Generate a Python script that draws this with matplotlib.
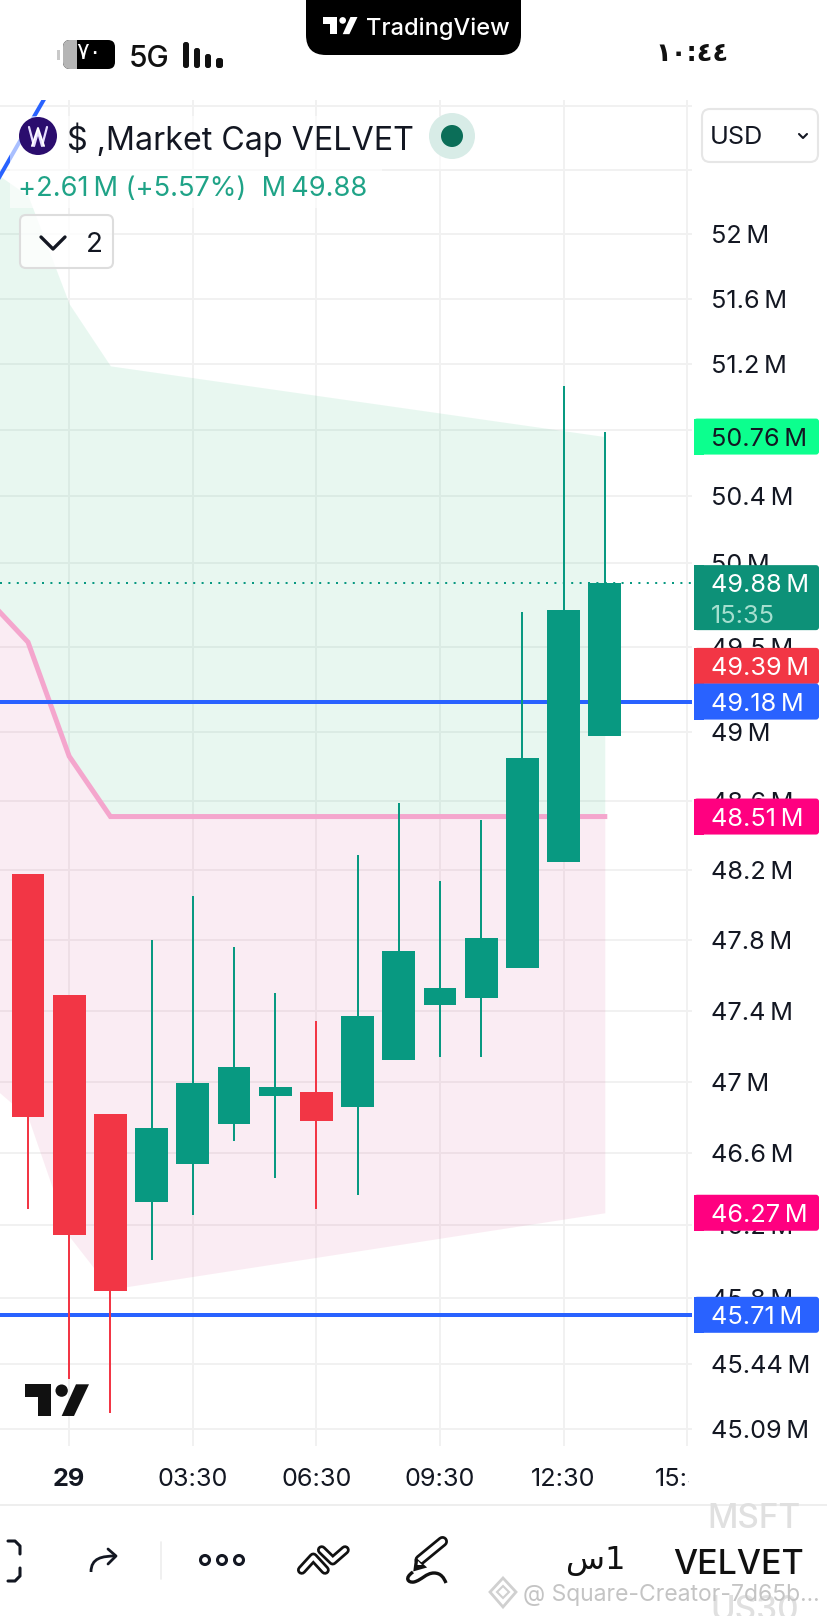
import matplotlib
matplotlib.use("Agg")
import matplotlib.pyplot as plt
from matplotlib.patches import FancyBboxPatch, Rectangle, Circle, Polygon, PathPatch
from matplotlib.path import Path
from matplotlib.transforms import Bbox

# ---------- data (prices in millions) ----------
opens  = [48.18, 47.49, 46.82, 46.33, 46.54, 46.76, 46.92, 46.94, 46.86, 47.12, 47.43, 47.47, 47.64, 48.25, 48.98]
closes = [46.80, 46.15, 45.84, 46.74, 46.99, 47.08, 46.97, 46.78, 47.37, 47.74, 47.53, 47.81, 48.85, 49.72, 49.88]
highs  = [48.18, 47.49, 46.82, 47.80, 48.05, 47.76, 47.50, 47.34, 48.29, 48.59, 48.14, 48.49, 49.71, 51.07, 50.79]
lows   = [46.29, 45.36, 45.18, 46.01, 46.26, 46.67, 46.46, 46.29, 46.37, 47.12, 47.14, 47.14, 47.64, 48.25, 48.98]

band_idx   = [-1, 0, 1, 2, 14]
band_upper = [52.42, 52.24, 51.57, 51.19, 50.76]
band_mid   = [49.79, 49.53, 48.86, 48.51, 48.51]
band_lower = [47.00, 46.80, 46.14, 45.85, 46.27]

trend_idx = [-1, 0, 1]
trend_val = [52.22, 52.67, 53.12]

last_price = 49.88
h_levels = [49.18, 45.71]

TS = '\u2009'
grid_prices = [52.8, 52.4, 52, 51.6, 51.2, 50.8, 50.4, 50, 49.5, 49, 48.6, 48.2, 47.8, 47.4, 47, 46.6, 46.2, 45.8, 45.44, 45.09]
grid_labels = ['', '', '52', '51.6', '51.2', '50.8', '50.4', '50', '49.5', '49', '48.6', '48.2',
               '47.8', '47.4', '47', '46.6', '46.2', '45.8', '45.44', '45.09']
time_idx = [1, 4, 7, 10, 13, 16]
time_labels = ['29', '03:30', '06:30', '09:30', '12:30', '15:30']

tag_values = [50.76, 49.88, 49.39, 49.18, 48.51, 46.27, 45.71]
tag_colors = ['#0cff8e', '#0d9178', '#f23645', '#2962ff', '#ff0080', '#ff0080', '#2962ff']
tag_text_colors = ['#131722', '#ffffff', '#ffffff', '#ffffff', '#ffffff', '#ffffff', '#ffffff']

GREEN = '#089981'
RED = '#f23645'
INK = '#131722'
UI = 'Inter'
plt.rcParams['font.family'] = [UI, 'DejaVu Sans']
LAB = 18.2

W, H = 828, 1616
fig = plt.figure(figsize=(W / 100, H / 100), dpi=100, facecolor='white')
px = 0.72  # points per pixel

# ---------- main chart ----------
ax = fig.add_axes([0, (H - 1446) / H, 692 / W, (1446 - 100) / H])
ax.set_yscale('log')
ax.set_xlim(-0.68, 16.117)
ax.set_ylim(45.00, 52.84)
for s in ax.spines.values():
    s.set_visible(False)
ax.minorticks_off()
ax.yaxis.tick_right()
ax.set_yticks(grid_prices, [f'{g}{TS}M' if g else '' for g in grid_labels])
ax.yaxis.set_minor_locator(matplotlib.ticker.NullLocator())
ax.set_xticks(time_idx, time_labels)
ax.tick_params(axis='y', length=0, pad=19 * px, labelsize=LAB, labelcolor=INK)
ax.tick_params(axis='x', length=0, pad=22 * px, labelsize=LAB, labelcolor=INK)
ax.grid(True, color='#f1f1f1', lw=2 * px)
ax.set_axisbelow(True)
for lab in ax.get_yticklabels():
    lab.set_horizontalalignment('left')
xlabs = ax.get_xticklabels()
xlabs[0].set_fontweight('bold')
xlabs[-1].set_clip_on(True)
xlabs[-1].set_clip_box(Bbox([[0, 0], [689, H]]))

ax.fill_between(band_idx, band_mid, band_upper, color='#20b874', alpha=0.1, lw=0, zorder=1)
ax.fill_between(band_idx, band_lower, band_mid, color='#d0307a', alpha=0.09, lw=0, zorder=1)
ax.plot(band_idx, band_mid, color='#f4a6cd', lw=5 * px, zorder=2, solid_joinstyle='miter')
ax.plot(trend_idx, trend_val, color='#2962ff', lw=4 * px, zorder=2)
for lv in h_levels:
    ax.axhline(lv, color='#2962ff', lw=4 * px, zorder=2)
ax.axhline(last_price, color=GREEN, lw=2 * px, ls=(0, (1, 3.2)), zorder=2)

for i, (o, c, hi, lo) in enumerate(zip(opens, closes, highs, lows)):
    col = GREEN if c >= o else RED
    ax.vlines(i, lo, hi, color=col, lw=2 * px, zorder=3)
    ax.bar(i, abs(c - o), bottom=min(o, c), width=0.8, color=col, lw=0, zorder=4)

# ---------- overlay in pixels ----------
ov = fig.add_axes([0, 0, 1, 1], zorder=10)
ov.set_xlim(0, W)
ov.set_ylim(H, 0)
ov.axis('off')
ov.patch.set_alpha(0)


def ypx(price):
    yd = ax.transData.transform((0, price))[1]
    return H - yd


def rbox(x0, y0, x1, y1, r, fc, ec='none', lw=0, alpha=None, z=5):
    p = FancyBboxPatch((x0 + r, y0 + r), x1 - x0 - 2 * r, y1 - y0 - 2 * r,
                       boxstyle=f'round,pad={r},rounding_size={r}', fc=fc, ec=ec, lw=lw, alpha=alpha, zorder=z,
                       mutation_aspect=1)
    ov.add_patch(p)


def tv_logo(x0, y0, w, color, z=7):
    s = w / 191.0
    ov.add_patch(Polygon([(x0, y0), (x0 + 77 * s, y0), (x0 + 77 * s, y0 + 95 * s), (x0 + 38 * s, y0 + 95 * s),
                          (x0 + 38 * s, y0 + 37 * s), (x0, y0 + 37 * s)], closed=True, fc=color, ec='none', zorder=z))
    ov.add_patch(Circle((x0 + 109 * s, y0 + 19 * s), 18.5 * s, fc=color, ec='none', zorder=z))
    ov.add_patch(Polygon([(x0 + 152 * s, y0), (x0 + 191 * s, y0), (x0 + 146 * s, y0 + 95 * s), (x0 + 109 * s, y0 + 95 * s)],
                         closed=True, fc=color, ec='none', zorder=z))


def line(xs, ys, c=INK, lw=2.0, z=7, **kw):
    ov.plot(xs, ys, color=c, lw=lw, zorder=z, solid_capstyle='round', solid_joinstyle='round', **kw)


# price tags
for val, col, tc in zip(tag_values, tag_colors, tag_text_colors):
    yc = ypx(val)
    y0 = yc - 18
    y1 = yc + 18
    if val == last_price:
        y1 = y0 + 65
    rbox(694, y0, 819, y1, 3, col)
    ov.add_patch(Rectangle((694, y0), 10, y1 - y0, fc=col, ec='none', zorder=5))
    ov.text(711, yc, f'{val:.2f}{TS}M', color=tc, fontsize=LAB, va='center_baseline', ha='left', zorder=6)
    if val == last_price:
        ov.text(711, yc + 31, '15:35', color='#a6dfcf', fontsize=LAB, va='center_baseline', ha='left', zorder=6)

# legend veil
ov.add_patch(Rectangle((10, 116), 470, 53, fc='white', ec='none', alpha=0.6, zorder=4))
ov.add_patch(Rectangle((10, 169), 372, 39, fc='white', ec='none', alpha=0.6, zorder=4))

# title row
ov.add_patch(Circle((38, 136), 19, fc='#2b0d6e', ec='none', zorder=5))
line([29, 34, 38, 42, 47], [127, 146, 132, 146, 127], c='#e6dcff', lw=1.6, z=6)
line([32, 38, 44], [146, 128, 146], c='#ffffff', lw=1.4, z=6)
ov.text(67, 136, '$ ,Market Cap VELVET', fontsize=23.2, color=INK, va='center_baseline', ha='left', zorder=6)
ov.add_patch(Circle((452, 136), 23, fc='#d8ece7', ec='none', zorder=5))
ov.add_patch(Circle((452, 136), 11, fc='#0b6e58', ec='none', zorder=6))

ov.text(18, 186, f'+2.61{TS}M (+5.57%)  M{TS}49.88', fontsize=19.6, color='#1fa387', va='center_baseline', ha='left', zorder=6)

# collapse button
rbox(20, 215, 113, 268, 6, '#ffffffcc', ec='#dddddd', lw=1.5)
line([41, 53, 65], [237, 249, 237], lw=2.4)
ov.text(94, 242, '2', fontsize=20, color=INK, ha='center', va='center_baseline', zorder=6)

# USD box
rbox(702, 109, 818, 162, 8, 'white', ec='#e6e6e6', lw=1.5)
ov.text(710, 135, 'USD', fontsize=LAB, color=INK, va='center_baseline', ha='left', zorder=6)
line([799, 803, 807], [134, 138, 134], lw=1.5)

# top notch
ov.add_patch(FancyBboxPatch((326, -40), 175, 75, boxstyle='round,pad=20,rounding_size=20', fc='black', ec='none', zorder=6))
tv_logo(323, 17, 34.5, 'white')
ov.text(366, 26, 'TradingView', fontsize=17, color='white', va='center_baseline', ha='left', fontweight='medium', zorder=7)

# status bar
rbox(63, 40, 115, 69, 7, 'black')
rbox(63, 40, 90, 69, 7, '#b5b5b5', z=5)
ov.add_patch(Rectangle((77, 40), 20, 29, fc='black', ec='none', zorder=5))
ov.add_patch(Rectangle((57.5, 50), 3, 10, fc='#c9c9c9', ec='none', zorder=5))
ov.text(89, 52, '٧٠', family='DejaVu Sans', fontsize=17, color='white', ha='center', va='center', zorder=6)
ov.text(129, 56, '5G', fontsize=21.5, color='#111111', fontweight='medium', va='center_baseline', ha='left', zorder=6)
for x0, x1, top in zip([183, 194, 205, 216], [189, 200, 211, 223], [42, 48, 54, 58]):
    rbox(x0, top, x1, 68, 2.5, '#111111')
ov.text(692, 54, '١٠:٤٤', family='DejaVu Sans', fontsize=18.5, fontweight='bold', color='#111111', ha='center', va='center', zorder=6)

# chart logo
tv_logo(25.3, 1384.3, 63.7, '#111111')

# bottom bar
ov.plot([0, W], [1505, 1505], color='#eeeeee', lw=1.4, zorder=3)
ov.text(754, 1516, 'MSFT', fontsize=24, color='#e0e0e0', fontweight='medium', ha='center', va='center_baseline', zorder=3)
ov.text(673, 1561, 'VELVET', fontsize=24.5, color='#111111', fontweight='medium', ha='left', va='center_baseline', zorder=6)
ov.text(596, 1560, 'س1', family=['DejaVu Sans'], fontsize=23, color='#111111', ha='center', va='center', zorder=6)

# bracket icon
line([8, 15, 20, 20], [1541, 1541, 1546, 1554], lw=2.2)
line([8, 15, 20, 20], [1581, 1581, 1576, 1568], lw=2.2)
# redo arrow
ov.add_patch(PathPatch(Path([(91, 1572), (91, 1558), (102, 1556), (116, 1556)],
                            [Path.MOVETO, Path.CURVE4, Path.CURVE4, Path.CURVE4]), fc='none', ec=INK, lw=2.0, zorder=7))
line([108, 116, 108], [1549, 1556, 1564], lw=2.0)
line([161, 161], [1542, 1579], c='#eeeeee', lw=1.2)
for cx in [205, 222, 239]:
    ov.add_patch(Circle((cx, 1560), 4.5, fc='none', ec=INK, lw=2.2, zorder=7))
# zigzag icon: two outlined chevrons
for xs, ys in [([301.7, 313.3, 325], [1570, 1557.3, 1570]), ([321.7, 332.7, 345], [1550, 1560.7, 1550])]:
    line(xs, ys, c='#111111', lw=9.5 * px)
    line(xs, ys, c='white', lw=4 * px, z=7.5)
# pen icon
line([420, 442.5], [1560, 1541.5], c='#111111', lw=11 * px)
line([420, 442.5], [1560, 1541.5], c='white', lw=5.5 * px, z=7.5)
ov.add_patch(Polygon([(414.5, 1570), (416, 1559), (425, 1567)], closed=True, fc='#111111', ec='#111111', lw=1.5, zorder=8))
ov.add_patch(Polygon([(417.5, 1565), (418, 1561), (422, 1565)], closed=True, fc='white', ec='none', zorder=8.5))
ov.add_patch(PathPatch(Path([(413, 1572), (404, 1578), (408, 1583), (414, 1582), (422, 1580), (426, 1573), (434, 1573), (441, 1573), (444, 1578), (446, 1583)],
                            [Path.MOVETO] + [Path.CURVE4] * 9),
                       fc='none', ec='#111111', lw=2.4, zorder=7))

# watermark
ov.add_patch(Polygon([(503, 1578), (516, 1592), (503, 1607), (490, 1592)], closed=True, fc='none', ec='#d0d0d0', lw=2.0, zorder=8))
ov.add_patch(Polygon([(503, 1586), (509, 1592), (503, 1598), (497, 1592)], closed=True, fc='none', ec='#d0d0d0', lw=1.5, zorder=8))
ov.text(523, 1592, '@ Square-Creator-7d65b...', fontsize=16.5, color='#c4c4c4', va='center_baseline', ha='left', zorder=8)
ov.text(755, 1607, 'US30', fontsize=24, color='#e0e0e0', fontweight='medium', ha='center', va='center_baseline', zorder=3)

fig.savefig('out.png', dpi=100)
